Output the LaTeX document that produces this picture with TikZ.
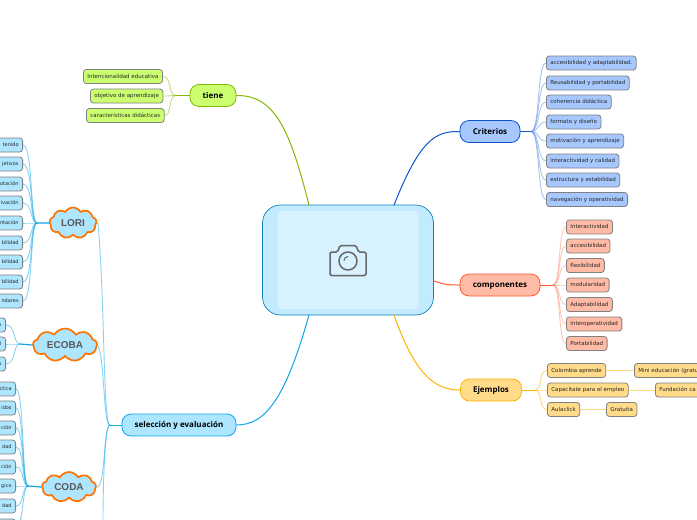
\documentclass[tikz,border=0pt]{standalone}
\usepackage{fontspec}
\setmainfont{DejaVu Sans}
\newfontfamily\topicfont{Open Sans}
\newfontfamily\cloudfont{Liberation Sans}
\usetikzlibrary{shapes.symbols,positioning}
\definecolor{limeFill}{HTML}{CCFF70}
\definecolor{limeLine}{HTML}{82B800}
\definecolor{blueFill}{HTML}{A6C8FF}
\definecolor{blueLine}{HTML}{0B55D0}
\definecolor{redFill}{HTML}{FFBBA6}
\definecolor{redLine}{HTML}{FF5A2B}
\definecolor{goldFill}{HTML}{FFDB8A}
\definecolor{goldLine}{HTML}{FFB300}
\definecolor{skyFill}{HTML}{AEE5FF}
\definecolor{skyLine}{HTML}{0FA5E8}
\tikzset{
  leaf/.style={draw=black!50, line width=0.8pt, rounded corners=3pt, font=\fontsize{5.5}{6}\selectfont, text=black!85, minimum height=14pt, inner xsep=4pt, inner ysep=0pt, text height=4.2pt, text depth=1pt, anchor=west},
  leafcut/.style={leaf, anchor=east, fill=skyFill, font=\fontsize{5}{6}\selectfont, minimum width=80pt, text width=72pt, align=flush right},
  leafover/.style={leaf, fill=goldFill, text width=110pt, align=flush left},
  topic/.style={draw, line width=0.8pt, rounded corners=9pt, font=\topicfont\bfseries\fontsize{8}{9}\selectfont, minimum height=22pt, inner xsep=0pt, text height=6pt, text depth=1pt},
  cloudy/.style={cloud, cloud puffs=9, cloud puff arc=120, draw=orange!90!red, line width=1.7pt, fill=skyFill, font=\cloudfont\bfseries\fontsize{10}{11}\selectfont, text=black!65, inner sep=0pt},
  twig/.style={line width=0.9pt, opacity=0.5}
}
\begin{document}
\begin{tikzpicture}[x=1pt, y=-1pt, line cap=round, line join=round]
\useasboundingbox (0,0) rectangle (697,520);
% centre
\node[draw=skyLine!80!black, fill=skyFill!75!white, line width=0.7pt, rounded corners=18pt, minimum width=171pt, minimum height=110pt] (root) at (348,260) {};
\node[fill=white, fill opacity=0.35, rounded corners=3pt, minimum width=141pt, minimum height=98pt] (photo) at (348,260) {};
% camera
\draw[black!60, line width=1.5pt, rounded corners=1.5pt] (330,258) -- (330,275.5) -- (366,275.5) -- (366,252) -- (358.5,252) -- (356,245.5) -- (340,245.5) -- (337.5,252) -- (330,252) -- cycle;
\draw[black!60, line width=1.5pt] (348,261) circle (9pt);
\draw[black!60, line width=1pt] (344,260.5) arc (180:90:4pt);
% main topics
\node[topic, draw=limeLine, fill=limeFill, minimum width=46pt] (tiene) at (213,95.5) {tiene};
\node[topic, draw=blueLine, fill=blueFill, minimum width=60pt] (criterios) at (490,131.5) {Criterios};
\node[topic, draw=redLine, fill=redFill, minimum width=80pt] (componentes) at (500,285) {componentes};
\node[topic, draw=goldLine, fill=goldFill, minimum width=61pt] (ejemplos) at (491,390) {Ejemplos};
\node[topic, draw=skyLine, fill=skyFill, minimum width=114pt] (seleccion) at (179,425) {selección y evaluación};
% clouds
\node[cloudy, aspect=1.6, minimum width=47pt, minimum height=31pt] (lori) at (73,223) {LORI};
\node[cloudy, aspect=2.1, minimum width=64pt, minimum height=30pt] (ecoba) at (65,345) {ECOBA};
\node[cloudy, aspect=1.8, minimum width=54pt, minimum height=30pt] (coda) at (69,487) {CODA};
% trunks
\draw[limeLine, line width=1pt] (tiene.east) .. controls (275,95) and (290,130) .. (309,205);
\draw[blueLine, line width=1pt] (criterios.west) .. controls (435,131) and (420,140) .. (394,205);
\draw[redLine, line width=1pt] (componentes.west) .. controls (450,285) and (445,285) .. (434,281);
\draw[goldLine, line width=1pt] (ejemplos.west) .. controls (435,390) and (415,375) .. (394,315);
\draw[skyLine, line width=1pt] (seleccion.east) .. controls (265,425) and (285,400) .. (309,315);
% leaves: tiene
\coordinate (tienehub) at (176,95.5);
\draw[limeLine, line width=1pt] (tiene.west) -- (tienehub);
\foreach \nam/\ypos/\xpos/\txt in {ta/76.5/83/Intencionalidad educativa, tb/96/90/objetivo de aprendizaje, tc/115.5/86/características didácticas}{
  \node[leaf, fill=limeFill] (\nam) at (\xpos,\ypos) {\txt};
  \draw[limeLine, twig] (tienehub) .. controls (168,95.5) and (172,\ypos) .. (\nam.east);
}
% leaves: criterios
\coordinate (critehub) at (531,131.5);
\draw[blueLine, line width=1pt] (criterios.east) -- (critehub);
\foreach \nam/\ypos/\txt in {ca/63/accesibilidad y adaptabilidad., cb/83/Reusabilidad y portabilidad, cc/102/coherencia didáctica, cd/122/formato y diseño, ce/141/motivación y aprendizaje, cf/161/interactividad y calidad, cg/180/estructura y estabilidad, ch/199.5/navegación y operatividad}{
  \node[leaf, fill=blueFill] (\nam) at (546,\ypos) {\txt};
  \draw[blueLine!70!white, twig] (critehub) .. controls (540,131.5) and (537,\ypos) .. (\nam.west);
}
% leaves: componentes
\coordinate (compohub) at (553,285);
\draw[redLine, line width=1pt] (componentes.east) -- (compohub);
\foreach \nam/\ypos/\txt in {pa/227/Interactividad, pb/246/accesibilidad, pc/265.5/flexibilidad, pd/285/modularidad, pe/304.5/Adaptabilidad, pf/324/Interoperatividad, pg/343.5/Portabilidad}{
  \node[leaf, fill=redFill] (\nam) at (566,\ypos) {\txt};
  \draw[redLine!70!white, twig] (compohub) .. controls (561,285) and (558,\ypos) .. (\nam.west);
}
% leaves: ejemplos
\coordinate (ejemhub) at (535,390);
\draw[goldLine, line width=1pt] (ejemplos.east) -- (ejemhub);
\foreach \nam/\ypos/\txt in {ea/370.5/Colombia aprende, eb/390/Capacítate para el empleo, ec/409.5/Aulaclick}{
  \node[leaf, fill=goldFill] (\nam) at (547,\ypos) {\txt};
  \draw[goldLine, twig] (ejemhub) .. controls (543,390) and (538,\ypos) .. (\nam.west);
}
\node[leafover] (ed) at (634,370.5) {Mini educación (gratu};
\node[leafover] (ee) at (655,390) {Fundación ca};
\node[leaf, fill=goldFill] (ef) at (606,409.5) {Gratuita};
\draw[goldLine, twig] (ea) -- (ed);
\draw[goldLine, twig] (eb) -- (ee);
\draw[goldLine, twig] (ec) -- (ef);
% selection branches
\coordinate (selehub) at (110,425);
\draw[skyLine, line width=1pt] (seleccion.west) -- (selehub);
\draw[skyLine, twig] (selehub) .. controls (103,425) and (105,300) .. (98,224) -- (lori.east);
\draw[skyLine, twig] (selehub) .. controls (103,425) and (105,360) .. (ecoba.east);
\draw[skyLine, twig] (selehub) .. controls (103,425) and (106,487) .. (coda.east);
\coordinate (selecut) at (103,522);
\draw[skyLine, twig] (selehub) .. controls (105,425) and (103,480) .. (selecut);
% LORI
\coordinate (lorihub) at (37,223);
\draw[skyLine, line width=1.2pt] (lori.west) -- (lorihub);
\foreach \nam/\ypos/\txt in {la/145/tenido, lb/164/jetivos, lc/184/otación, ld/203/ivación, le/223/ntación, lf/243/bilidad, lg/262/bilidad, lh/282/bilidad, li/301/ndares}{
  \node[leafcut] (\nam) at (23,\ypos) {\txt};
  \draw[skyLine, twig] (lorihub) .. controls (30,223) and (33,\ypos) .. (\nam.east);
}
% ECOBA
\coordinate (ecobahub) at (20,344);
\draw[skyLine, line width=1.2pt] (ecoba.west) -- (ecobahub);
\foreach \nam/\ypos/\txt in {ba/325/s, bb/344/l, bc/364/s}{
  \node[leafcut] (\nam) at (6,\ypos) {\txt};
  \draw[skyLine, twig] (ecobahub) .. controls (13,344) and (16,\ypos) .. (\nam.east);
}
% CODA
\coordinate (codahub) at (28,486);
\draw[skyLine, line width=1.2pt] (coda.west) -- (codahub);
\foreach \nam/\ypos/\txt in {da/389/ctica, db/408/idos, dc/428/ción, dd/447/dad, de/467/ción, df/486/gico, dg/506/dad, dh/526/{}}{
  \node[leafcut] (\nam) at (16,\ypos) {\txt};
  \draw[skyLine, twig] (codahub) .. controls (22,486) and (24,\ypos) .. (\nam.east);
}
\end{tikzpicture}
\end{document}
